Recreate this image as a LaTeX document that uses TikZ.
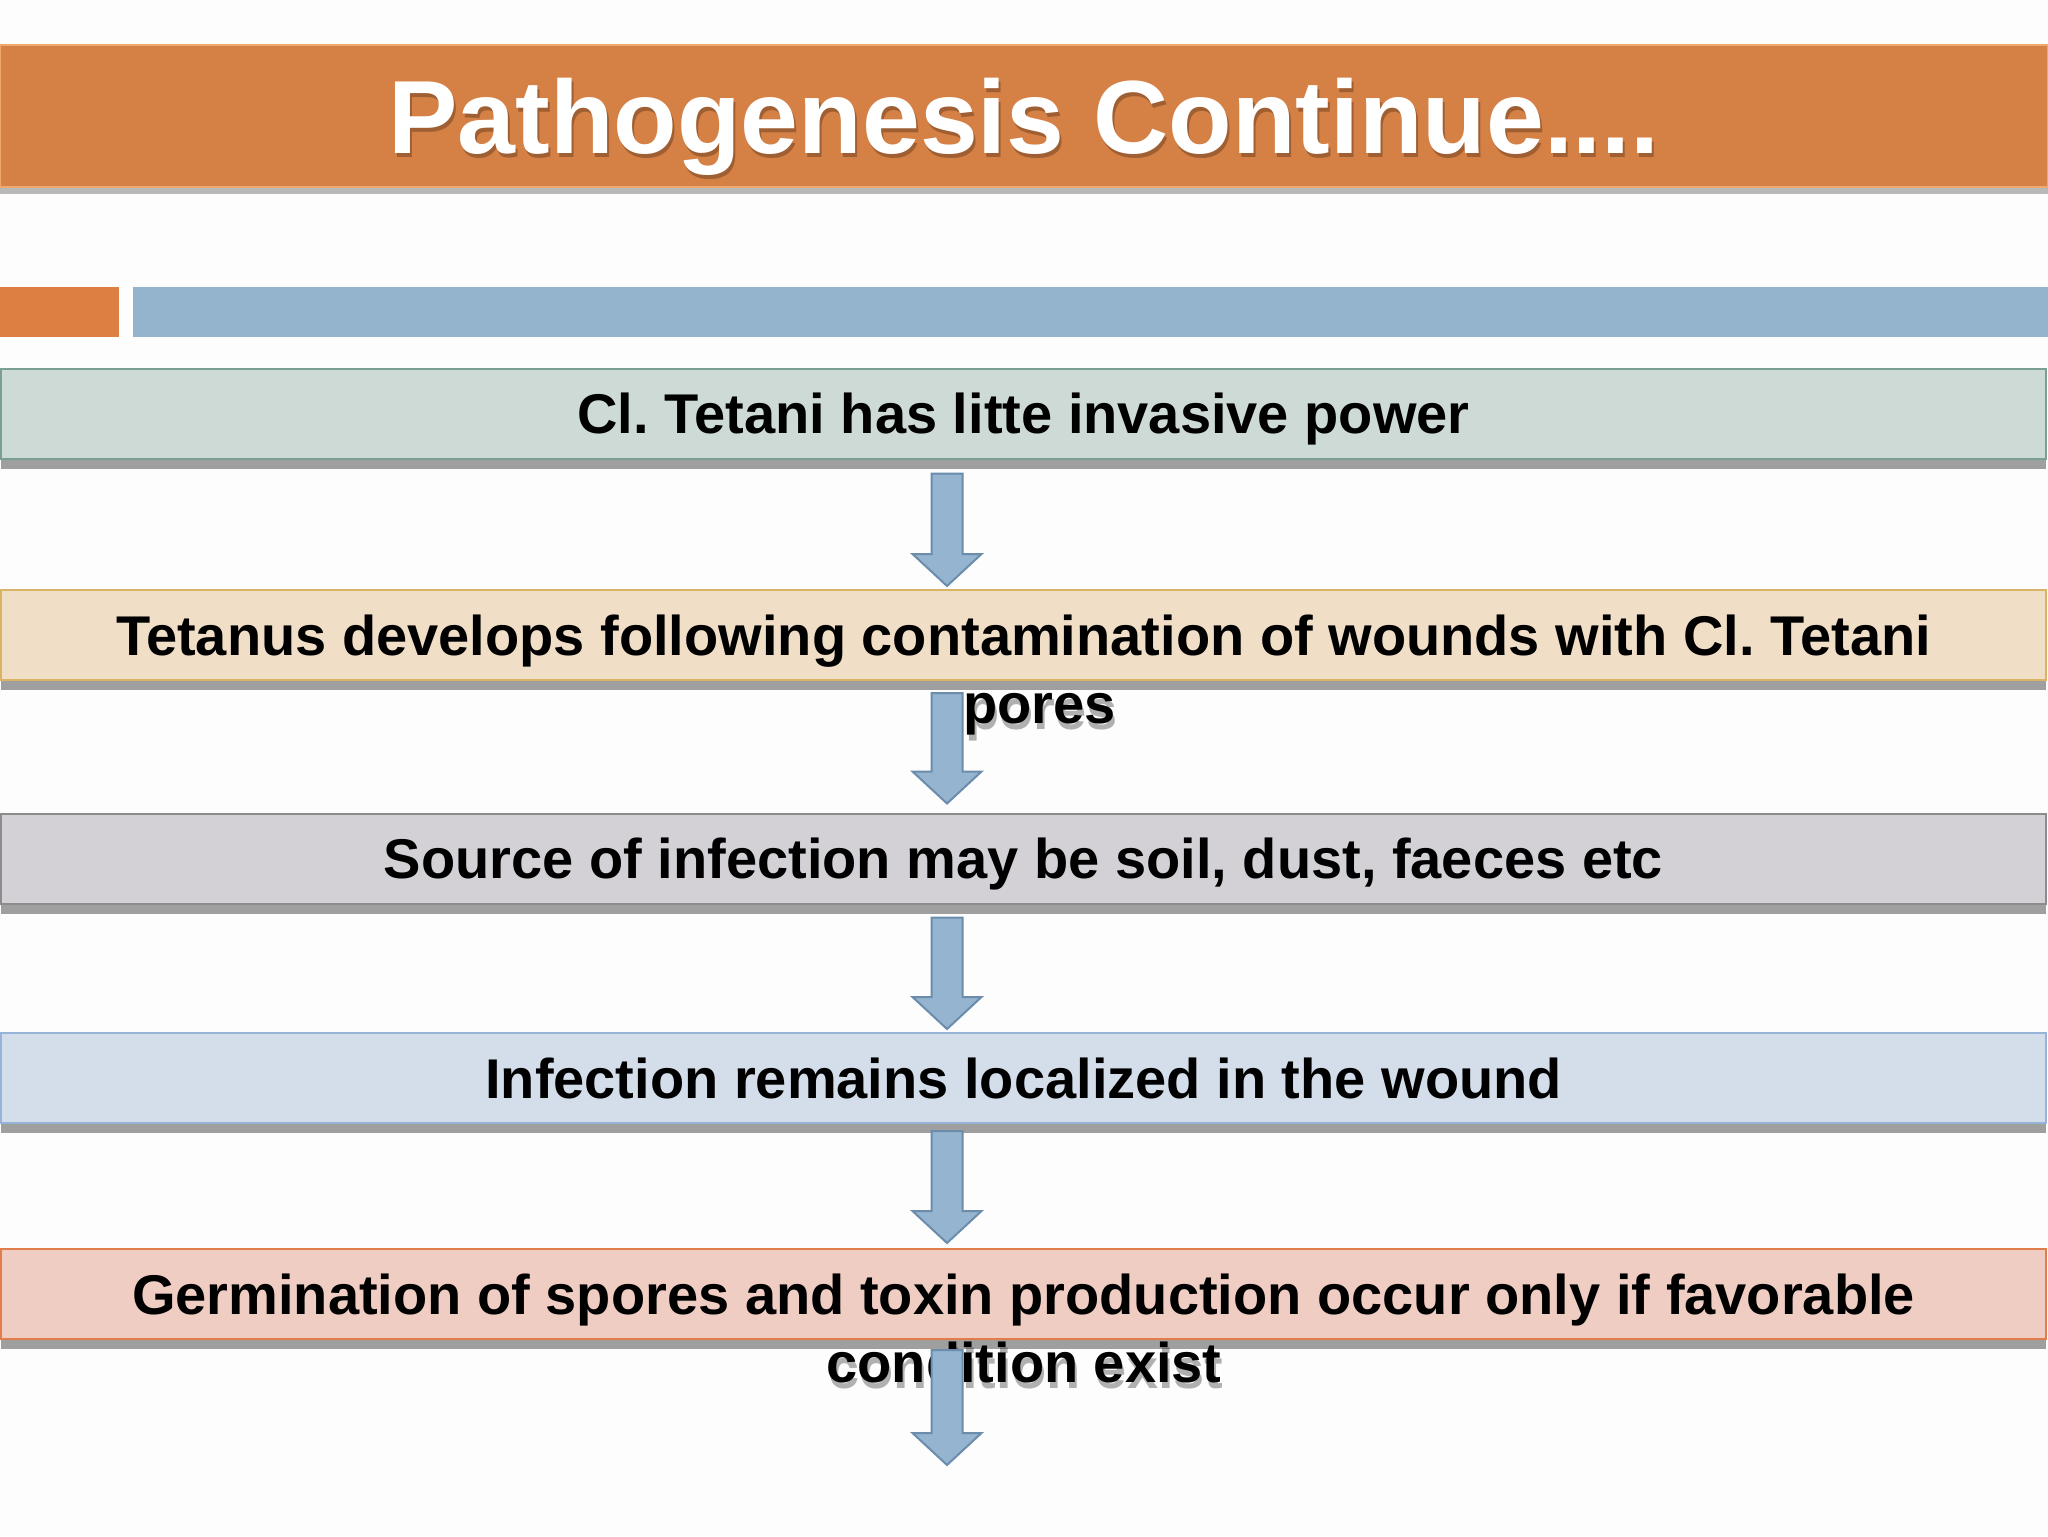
\documentclass[tikz,border=0pt]{standalone}
\usepackage{fontspec}
\setmainfont{Liberation Sans}
\usetikzlibrary{calc,shadows}
\frenchspacing
\definecolor{bgc}{RGB}{253,253,253}
\definecolor{titleor}{RGB}{213,128,68}
\definecolor{titleedge}{RGB}{236,170,110}
\definecolor{sqor}{RGB}{221,127,66}
\definecolor{barblue}{RGB}{148,180,206}
\definecolor{f1}{RGB}{205,218,214}\definecolor{d1}{RGB}{122,160,150}
\definecolor{f2}{RGB}{240,222,199}\definecolor{d2}{RGB}{217,180,100}
\definecolor{f3}{RGB}{211,209,213}\definecolor{d3}{RGB}{140,140,140}
\definecolor{f4}{RGB}{211,222,234}\definecolor{d4}{RGB}{150,180,215}
\definecolor{f5}{RGB}{240,205,194}\definecolor{d5}{RGB}{225,125,75}
\definecolor{arfill}{RGB}{148,180,207}
\definecolor{ardraw}{RGB}{108,140,172}
\tikzset{
  boxnode/.style={rectangle, minimum width=1022.5pt, minimum height=45pt, inner sep=0pt,
    line width=1pt, text height=20pt, text depth=0pt,
    font=\fontsize{28}{34}\selectfont\bfseries\frenchspacing, text=black,
    drop shadow={shadow xshift=0pt, shadow yshift=-5pt, fill=black!50, opacity=0.75}},
  linetwo/.style={anchor=base, inner sep=0pt, font=\fontsize{28}{34}\selectfont\bfseries, text=black},
  lineshadow/.style={anchor=base, inner sep=0pt, font=\fontsize{28}{34}\selectfont\bfseries, text=black, opacity=0.3},
  titlebar/.style={rectangle, minimum width=1024pt, minimum height=71pt, inner sep=0pt,
    fill=titleor, draw=titleedge, line width=0.8pt, text height=37pt, text depth=0pt,
    font=\fontsize{52}{60}\selectfont\bfseries, text=white,
    drop shadow={shadow xshift=0pt, shadow yshift=-3.5pt, fill=black!50, opacity=0.55}},
  barrow/.style={fill=arfill, draw=ardraw, line width=1pt, line join=miter},
}
\newcommand{\blockarr}[2]{%
  \draw[barrow] ([xshift=-7.75pt]#1) -- ([xshift=7.75pt]#1)
    -- ([xshift=7.75pt,yshift=16pt]#2) -- ([xshift=17.25pt,yshift=16pt]#2)
    -- (#2) -- ([xshift=-17.25pt,yshift=16pt]#2)
    -- ([xshift=-7.75pt,yshift=16pt]#2) -- cycle;}
\begin{document}
\begin{tikzpicture}[x=0.5pt,y=-0.5pt]
\fill[bgc] (0,0) rectangle (2048,1536);
\useasboundingbox (0,0) rectangle (2048,1536);
% title
\node[titlebar] (title) at (1024,116) {};
\node[anchor=base, inner sep=0pt, font=\fontsize{52}{60}\selectfont\bfseries, text=black, opacity=0.25] (titlesh) at (1026,157) {Pathogenesis Continue....};
\node[anchor=base, inner sep=0pt, font=\fontsize{52}{60}\selectfont\bfseries, text=white] (titletext) at (1024,154) {Pathogenesis Continue....};
% decorative bars
\fill[sqor] (0,287) rectangle (119,337);
\fill[barblue] (133,287) rectangle (2048,337);
% boxes
\node[boxnode, fill=f1, draw=d1] (b1) at (1023.5,413.5) {Cl. Tetani has litte invasive power};
\node[boxnode, fill=f2, draw=d2] (b2) at (1023.5,635) {Tetanus develops following contamination of wounds with Cl. Tetani};
\node[boxnode, fill=f3, draw=d3] (b3) at (1023.5,858.5) {Source of infection may be soil, dust, faeces etc};
\node[boxnode, fill=f4, draw=d4] (b4) at (1023.5,1078) {Infection remains localized in the wound};
\node[boxnode, fill=f5, draw=d5] (b5) at (1023.5,1294) {Germination of spores and toxin production occur only if favorable};
% overflow lines
\node[lineshadow] (b2sh) at (1026,729) {spores};
\node[linetwo] (b2l) at (1024,723) {spores};
\node[lineshadow] (b5sh) at (1026,1388) {condition exist};
\node[linetwo] (b5l) at (1024,1382) {condition exist};
% arrows
\coordinate (ax) at (947,0);
\coordinate (s1) at (ax |- b1.south); \coordinate (a1s) at ([yshift=-7pt]s1);
\coordinate (t1) at (ax |- b2.north); \coordinate (a1t) at ([yshift=1.5pt]t1);
\coordinate (s2) at (ax |- b2.south); \coordinate (a2s) at ([yshift=-6pt]s2);
\coordinate (t2) at (ax |- b3.north); \coordinate (a2t) at ([yshift=4.5pt]t2);
\coordinate (s3) at (ax |- b3.south); \coordinate (a3s) at ([yshift=-6.5pt]s3);
\coordinate (t3) at (ax |- b4.north); \coordinate (a3t) at ([yshift=1.5pt]t3);
\coordinate (s4) at (ax |- b4.south); \coordinate (a4s) at ([yshift=-3.5pt]s4);
\coordinate (t4) at (ax |- b5.north); \coordinate (a4t) at ([yshift=2.5pt]t4);
\coordinate (s5) at (ax |- b5.south); \coordinate (a5s) at ([yshift=-5pt]s5);
\coordinate (a5t) at (947,1465);
\blockarr{a1s}{a1t}
\blockarr{a2s}{a2t}
\blockarr{a3s}{a3t}
\blockarr{a4s}{a4t}
\blockarr{a5s}{a5t}
\end{tikzpicture}
\end{document}
